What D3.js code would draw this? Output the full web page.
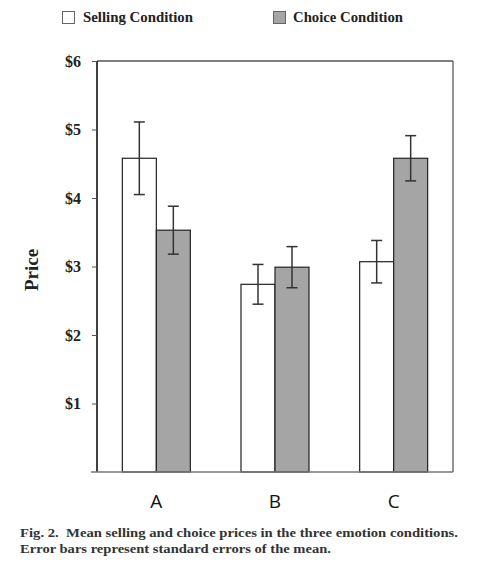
<!DOCTYPE html>
<html>
<head>
<meta charset="utf-8">
<script src="https://cdn.jsdelivr.net/npm/d3@7"></script>
<style>
  body { margin: 0; background: #fff; }
  svg { display: block; }
</style>
</head>
<body>
<div id="chart-area"></div>
<script>
// DATA
const categories = ["A", "B", "C"]
const seriesNames = ["Selling Condition", "Choice Condition"]
const sellingMeans = [4.58, 2.74, 3.07]
const sellingSE = [0.53, 0.29, 0.31]
const choiceMeans = [3.53, 2.99, 4.58]
const choiceSE = [0.35, 0.30, 0.33]
const yTicks = [1, 2, 3, 4, 5, 6]

// CHART AREA
const margin = { left: 97, right: 36, top: 61, bottom: 103 }
const width = 489 - margin.left - margin.right
const height = 575 - margin.top - margin.bottom

const svg = d3.select("#chart-area")
  .append("svg")
    .attr("width", 489)
    .attr("height", 575)

const chart = svg.append("g")
  .attr("transform", "translate(" + margin.left + ", " + margin.top + ")")

const data = categories.map((c, i) => ({
  cat: c,
  values: [
    { key: seriesNames[0], mean: sellingMeans[i], se: sellingSE[i] },
    { key: seriesNames[1], mean: choiceMeans[i], se: choiceSE[i] }
  ]
}))

const xScale = d3.scaleBand()
  .domain(categories)
  .range([0, width])
  .paddingInner(0.427)
  .paddingOuter(0.2135)

const xInner = d3.scaleBand()
  .domain(seriesNames)
  .range([0, xScale.bandwidth()])

const yScale = d3.scaleLinear()
  .domain([0, 6])
  .range([height, 0])

const fill = d3.scaleOrdinal()
  .domain(seriesNames)
  .range(["#ffffff", "#a5a5a5"])

// frame (top and right)
chart.append("line")
  .attr("x1", 0).attr("x2", width)
  .attr("y1", 0).attr("y2", 0)
  .attr("stroke", "#555").attr("stroke-width", 1.4)
chart.append("line")
  .attr("x1", width).attr("x2", width)
  .attr("y1", 0).attr("y2", height)
  .attr("stroke", "#666").attr("stroke-width", 1.4)

// BARS
const groups = chart.selectAll("g.group")
  .data(data)
  .enter().append("g")
    .attr("class", "group")
    .attr("transform", d => "translate(" + xScale(d.cat) + ",0)")

groups.selectAll("rect")
  .data(d => d.values)
  .enter().append("rect")
    .attr("x", d => xInner(d.key))
    .attr("y", d => yScale(d.mean))
    .attr("width", xInner.bandwidth())
    .attr("height", d => height - yScale(d.mean))
    .attr("fill", d => fill(d.key))
    .attr("stroke", "#222")
    .attr("stroke-width", 1.2)

// ERROR BARS
const capW = 11
const err = groups.selectAll("g.err")
  .data(d => d.values)
  .enter().append("g")
    .attr("class", "err")
    .attr("stroke", "#333")
    .attr("stroke-width", 1.5)

err.append("line")
  .attr("x1", d => xInner(d.key) + xInner.bandwidth() / 2)
  .attr("x2", d => xInner(d.key) + xInner.bandwidth() / 2)
  .attr("y1", d => yScale(d.mean + d.se))
  .attr("y2", d => yScale(d.mean - d.se))
err.append("line")
  .attr("x1", d => xInner(d.key) + xInner.bandwidth() / 2 - capW / 2)
  .attr("x2", d => xInner(d.key) + xInner.bandwidth() / 2 + capW / 2)
  .attr("y1", d => yScale(d.mean + d.se))
  .attr("y2", d => yScale(d.mean + d.se))
err.append("line")
  .attr("x1", d => xInner(d.key) + xInner.bandwidth() / 2 - capW / 2)
  .attr("x2", d => xInner(d.key) + xInner.bandwidth() / 2 + capW / 2)
  .attr("y1", d => yScale(d.mean - d.se))
  .attr("y2", d => yScale(d.mean - d.se))

// AXES
const yAxisCall = d3.axisLeft(yScale)
  .tickValues(yTicks)
  .tickSize(5)
  .tickPadding(11)
  .tickFormat(d => "$" + d)
const yAxis = chart.append("g")
  .attr("class", "y-axis")
  .call(yAxisCall)
yAxis.select(".domain")
  .attr("d", "M0,0V" + height)
  .attr("stroke", "#111")
  .attr("stroke-width", 1.6)
yAxis.selectAll(".tick line").attr("stroke", "#555")
yAxis.selectAll(".tick text")
  .attr("font-family", "'Liberation Serif', 'DejaVu Serif', serif")
  .attr("font-weight", "bold")
  .attr("font-size", "16px")
  .attr("fill", "#222")

const xAxisCall = d3.axisBottom(xScale)
  .tickSize(0)
  .tickPadding(23)
const xAxis = chart.append("g")
  .attr("class", "x-axis")
  .attr("transform", "translate(0, " + height + ")")
  .call(xAxisCall)
xAxis.select(".domain")
  .attr("d", "M-6,0H" + width)
  .attr("stroke", "#777")
  .attr("stroke-width", 1.4)
xAxis.selectAll(".tick text")
  .attr("font-family", "'Open Sans', 'Liberation Sans', sans-serif")
  .attr("font-size", "19px")
  .attr("fill", "#111")

// Y Axis Label
chart.append("text")
  .attr("transform", "rotate(-90)")
  .attr("x", -(270 - margin.top))
  .attr("y", -59)
  .attr("text-anchor", "middle")
  .attr("font-family", "'Liberation Serif', 'DejaVu Serif', serif")
  .attr("font-weight", "bold")
  .attr("font-size", "19px")
  .attr("fill", "#222")
  .text("Price")

// LEGEND
const legendX = [62, 273]
const legend = svg.selectAll("g.legend")
  .data(seriesNames)
  .enter().append("g")
    .attr("class", "legend")
    .attr("transform", (d, i) => "translate(" + legendX[i] + ", 11)")
legend.append("rect")
  .attr("x", 0.5).attr("y", 0.5)
  .attr("width", 12).attr("height", 12)
  .attr("fill", d => fill(d))
  .attr("stroke", "#666")
  .attr("stroke-width", 1)
legend.append("text")
  .attr("x", (d, i) => i === 0 ? 21 : 20)
  .attr("y", 11)
  .attr("textLength", 110)
  .attr("lengthAdjust", "spacingAndGlyphs")
  .attr("font-family", "'Liberation Serif', 'DejaVu Serif', serif")
  .attr("font-weight", "bold")
  .attr("font-size", "14px")
  .attr("fill", "#222")
  .text(d => d)

// CAPTION
const captionLines = [
  "Fig. 2.\u00a0 Mean selling and choice prices in the three emotion conditions.",
  "Error bars represent standard errors of the mean."
]
const captionWidths = [438, 311]
svg.selectAll("text.caption")
  .data(captionLines)
  .enter().append("text")
    .attr("class", "caption")
    .attr("x", 20)
    .attr("y", (d, i) => 537 + i * 16)
    .attr("textLength", (d, i) => captionWidths[i])
    .attr("lengthAdjust", "spacingAndGlyphs")
    .attr("font-family", "'Liberation Serif', 'DejaVu Serif', serif")
    .attr("font-weight", "bold")
    .attr("font-size", "12.5px")
    .attr("fill", "#333")
    .text(d => d)
</script>
</body>
</html>
